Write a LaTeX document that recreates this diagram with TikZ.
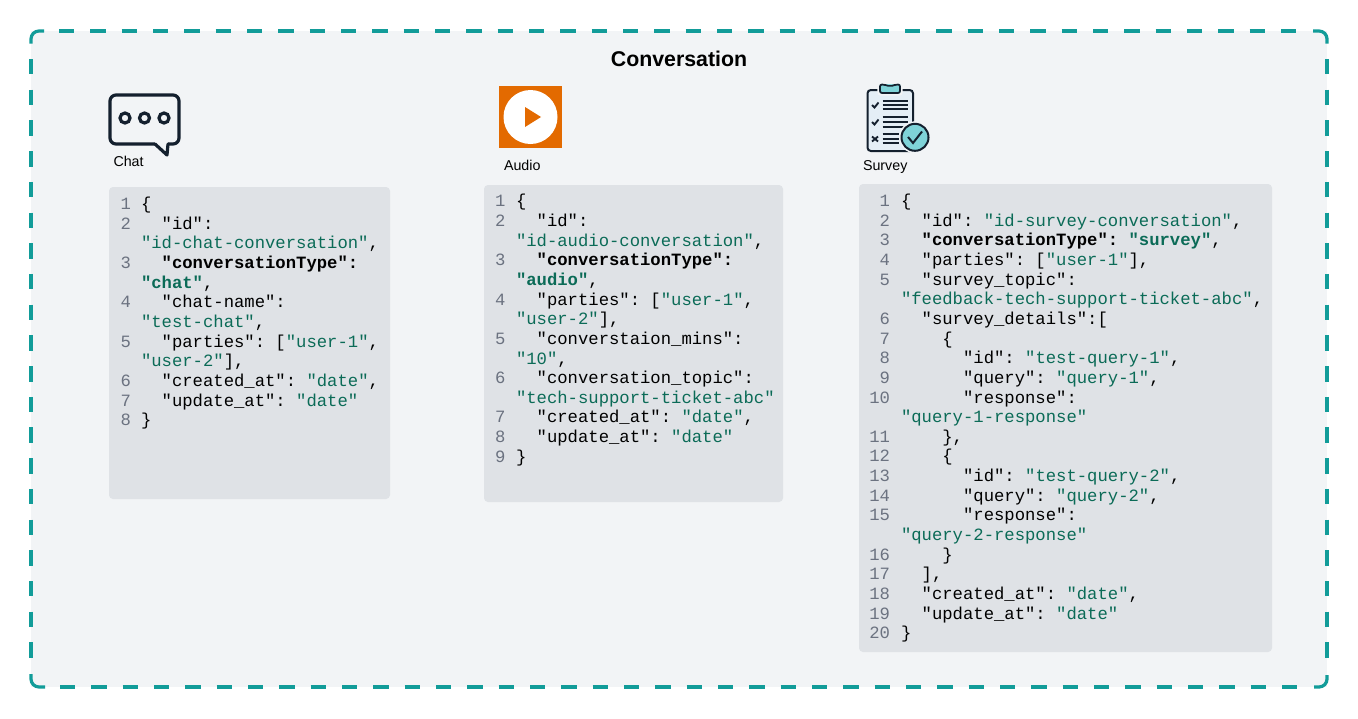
\documentclass[tikz,border=0pt]{standalone}
\usepackage{fontspec}
\setmainfont{Liberation Sans}
\newfontfamily\codefont{Liberation Mono}
\definecolor{pagebg}{HTML}{F2F4F6}
\definecolor{boxbg}{HTML}{DFE2E6}
\definecolor{teal}{HTML}{129C99}
\definecolor{strgreen}{HTML}{0B6B57}
\definecolor{numgray}{HTML}{6B7280}
\definecolor{ink}{HTML}{14202E}
\definecolor{orng}{HTML}{E36A00}
\definecolor{clipfill}{HTML}{E4EEF6}
\definecolor{aqua}{HTML}{7FD3D8}
\tikzset{
  px/.style={x=0.75pt,y=-0.75pt},
  codebox/.style={fill=boxbg,draw=none,rounded corners=3pt},
  codetext/.style={anchor=base west,inner sep=0pt,outer sep=0pt,font=\codefont\fontsize{12.93pt}{15pt}\selectfont},
  numtext/.style={anchor=base east,inner sep=0pt,outer sep=0pt,text=numgray,font=\codefont\fontsize{12.93pt}{15pt}\selectfont},
  iconlabel/.style={anchor=base west,inner sep=0pt,outer sep=0pt,text=black,font=\fontsize{10.7pt}{12pt}\selectfont},
  titletext/.style={anchor=base,inner sep=0pt,font=\bfseries\fontsize{16pt}{20pt}\selectfont},
  inkline/.style={draw=ink,line width=2.4pt},
  thinink/.style={draw=ink,line width=1.3pt},
  frameline/.style={draw=teal,line width=2.4pt},
}
\newcommand{\Str}[1]{\textcolor{strgreen}{#1}}
\newcommand{\BStr}[1]{\textcolor{strgreen}{\bfseries #1}}
\newcommand{\In}{\hphantom{xx}}
% \codeline{prefix}{numx}{codex}{y0}{row}{number}{code}
\newcommand{\codeline}[7]{%
  \pgfmathsetmacro{\rowy}{#4+19.65*#5}%
  \node[numtext] (#1n#5) at (#2,\rowy) {#6};
  \node[codetext] (#1c#5) at (#3,\rowy) {#7};
}
\frenchspacing
\begin{document}
\begin{tikzpicture}[px]
\useasboundingbox (0,0) rectangle (1358,718);
\fill[white] (0,0) rectangle (1358,718);
\path[fill=pagebg] (31,31) rectangle (1327,687);
% frame: four corners and four dashed sides
\draw[frameline,rounded corners=6pt] (31,43.5) -- (31,31) -- (44,31);
\draw[frameline,rounded corners=6pt] (1313,31) -- (1327,31) -- (1327,43.5);
\draw[frameline,rounded corners=6pt] (1327,675) -- (1327,687) -- (1314,687);
\draw[frameline,rounded corners=6pt] (31,674) -- (31,687) -- (45,687);
\draw[frameline,dash pattern=on 11.6pt off 11.9pt] (59,31) -- (1298,31);
\draw[frameline,dash pattern=on 11.6pt off 11.9pt] (60,687) -- (1299,687);
\draw[frameline,dash pattern=on 11.6pt off 11.43pt] (31,59) -- (31,658.5);
\draw[frameline,dash pattern=on 11.6pt off 11.43pt] (1327,59) -- (1327,658.5);
\node[titletext] (title) at (679,66) {Conversation};

% chat icon
\draw[inkline,line join=round,rounded corners=4.5pt] (155,144) -- (110,144) -- (110,95) -- (179,95) -- (179,144) -- (168,144);
\draw[inkline,line join=round,line cap=round] (155,144) -- (167,155) -- (168,144);
\draw[inkline] (125,118) circle[radius=5];
\draw[inkline] (144.5,118) circle[radius=5];
\draw[inkline] (164,118) circle[radius=5];
\node[iconlabel] (chatlabel) at (113.5,166) {Chat};

% audio icon
\fill[orng] (499,86) rectangle (562,148);
\fill[white] (530.5,117) circle[radius=27];
\fill[orng] (525,107) -- (541,117) -- (525,127) -- cycle;
\node[iconlabel] (audiolabel) at (504,170.5) {Audio};

% survey icon
\draw[thinink,fill=clipfill,line width=1.5pt,rounded corners=2.5pt] (867.5,90) rectangle (913,151);
\draw[pagebg,fill=aqua,line width=1.6pt,rounded corners=1.5pt] (878.5,83) -- (878.5,94.5) -- (901.5,94.5) -- (901.5,83) -- cycle;
\draw[thinink,fill=aqua,rounded corners=1.5pt] (880,84.5) -- (880,93) -- (900,93) -- (900,84.5) -- (896,84.5) -- (890,86.5) -- (884,84.5) -- cycle;
\foreach \yy in {100.7,105,109.3,117.3,122,126.7}{\draw[ink,line width=1.4pt] (882.7,\yy) -- (908,\yy);}
\foreach \yy in {134.3,138.7,143.3}{\draw[ink,line width=1.4pt] (882.7,\yy) -- (899,\yy);}
\draw[ink,line width=1.4pt] (872,105) -- (874.5,107.5) -- (878.5,102.5);
\draw[ink,line width=1.4pt] (872,122) -- (874.5,124.5) -- (878.5,119.5);
\draw[ink,line width=1.4pt] (872,136.5) -- (878,141.5) (878,136.5) -- (872,141.5);
\fill[pagebg] (915,137.3) circle[radius=16];
\draw[thinink,fill=aqua,line width=1.5pt] (915,137.3) circle[radius=13.5];
\draw[ink,line width=1.5pt] (908,137) -- (913,143) -- (922,131.5);
\node[iconlabel] (surveylabel) at (863,170.5) {Survey};

% boxes
\path[codebox] (109,187) rectangle (390,499);
\path[codebox] (484,185) rectangle (783,502);
\path[codebox] (859,184) rectangle (1272,652);

% chat code
\codeline{a}{131}{141}{209.5}{0}{1}{\{}
\codeline{a}{131}{141}{209.5}{1}{2}{\In"id":}
\codeline{a}{131}{141}{209.5}{2}{}{\Str{"id-chat-conversation"},}
\codeline{a}{131}{141}{209.5}{3}{3}{\In\textbf{"conversationType":}}
\codeline{a}{131}{141}{209.5}{4}{}{\BStr{"chat"},}
\codeline{a}{131}{141}{209.5}{5}{4}{\In"chat-name":}
\codeline{a}{131}{141}{209.5}{6}{}{\Str{"test-chat"},}
\codeline{a}{131}{141}{209.5}{7}{5}{\In"parties": [\Str{"user-1"},}
\codeline{a}{131}{141}{209.5}{8}{}{\Str{"user-2"}],}
\codeline{a}{131}{141}{209.5}{9}{6}{\In"created\_at": \Str{"date"},}
\codeline{a}{131}{141}{209.5}{10}{7}{\In"update\_at": \Str{"date"}}
\codeline{a}{131}{141}{209.5}{11}{8}{\}}

% audio code
\codeline{b}{505.5}{516}{206.8}{0}{1}{\{}
\codeline{b}{505.5}{516}{206.8}{1}{2}{\In"id":}
\codeline{b}{505.5}{516}{206.8}{2}{}{\Str{"id-audio-conversation"},}
\codeline{b}{505.5}{516}{206.8}{3}{3}{\In\textbf{"conversationType":}}
\codeline{b}{505.5}{516}{206.8}{4}{}{\BStr{"audio"},}
\codeline{b}{505.5}{516}{206.8}{5}{4}{\In"parties": [\Str{"user-1"},}
\codeline{b}{505.5}{516}{206.8}{6}{}{\Str{"user-2"}],}
\codeline{b}{505.5}{516}{206.8}{7}{5}{\In"converstaion\_mins":}
\codeline{b}{505.5}{516}{206.8}{8}{}{\Str{"10"},}
\codeline{b}{505.5}{516}{206.8}{9}{6}{\In"conversation\_topic":}
\codeline{b}{505.5}{516}{206.8}{10}{}{\Str{"tech-support-ticket-abc"}}
\codeline{b}{505.5}{516}{206.8}{11}{7}{\In"created\_at": \Str{"date"},}
\codeline{b}{505.5}{516}{206.8}{12}{8}{\In"update\_at": \Str{"date"}}
\codeline{b}{505.5}{516}{206.8}{13}{9}{\}}

% survey code
\codeline{s}{890}{901}{206.5}{0}{1}{\{}
\codeline{s}{890}{901}{206.5}{1}{2}{\In"id": \Str{"id-survey-conversation"},}
\codeline{s}{890}{901}{206.5}{2}{3}{\In\textbf{"conversationType":} \BStr{"survey"},}
\codeline{s}{890}{901}{206.5}{3}{4}{\In"parties": [\Str{"user-1"}],}
\codeline{s}{890}{901}{206.5}{4}{5}{\In"survey\_topic":}
\codeline{s}{890}{901}{206.5}{5}{}{\Str{"feedback-tech-support-ticket-abc"},}
\codeline{s}{890}{901}{206.5}{6}{6}{\In"survey\_details":[}
\codeline{s}{890}{901}{206.5}{7}{7}{\In\In\{}
\codeline{s}{890}{901}{206.5}{8}{8}{\In\In\In"id": \Str{"test-query-1"},}
\codeline{s}{890}{901}{206.5}{9}{9}{\In\In\In"query": \Str{"query-1"},}
\codeline{s}{890}{901}{206.5}{10}{10}{\In\In\In"response":}
\codeline{s}{890}{901}{206.5}{11}{}{\Str{"query-1-response"}}
\codeline{s}{890}{901}{206.5}{12}{11}{\In\In\},}
\codeline{s}{890}{901}{206.5}{13}{12}{\In\In\{}
\codeline{s}{890}{901}{206.5}{14}{13}{\In\In\In"id": \Str{"test-query-2"},}
\codeline{s}{890}{901}{206.5}{15}{14}{\In\In\In"query": \Str{"query-2"},}
\codeline{s}{890}{901}{206.5}{16}{15}{\In\In\In"response":}
\codeline{s}{890}{901}{206.5}{17}{}{\Str{"query-2-response"}}
\codeline{s}{890}{901}{206.5}{18}{16}{\In\In\}}
\codeline{s}{890}{901}{206.5}{19}{17}{\In],}
\codeline{s}{890}{901}{206.5}{20}{18}{\In"created\_at": \Str{"date"},}
\codeline{s}{890}{901}{206.5}{21}{19}{\In"update\_at": \Str{"date"}}
\codeline{s}{890}{901}{206.5}{22}{20}{\}}
\end{tikzpicture}
\end{document}
